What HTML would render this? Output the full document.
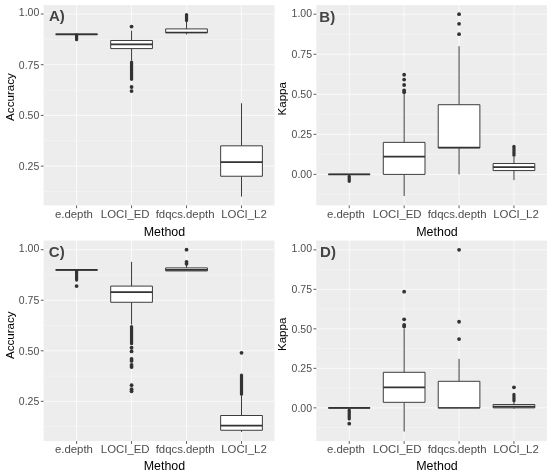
<!DOCTYPE html>
<html lang="en"><head><meta charset="utf-8"><title>Boxplots</title>
<style>html,body{margin:0;padding:0;background:#fff;}body{width:550px;height:476px;overflow:hidden;}svg{display:block;}</style>
</head><body>
<svg width="550" height="476" viewBox="0 0 550 476" font-family="'Liberation Sans', sans-serif">
<rect width="550" height="476" fill="#ffffff"/>
<g>
<rect x="43.6" y="5.1" width="230.9" height="200.3" fill="#ecedec"/>
<line x1="43.6" x2="274.5" y1="39.35" y2="39.35" stroke="#fff" stroke-width="0.32"/>
<line x1="43.6" x2="274.5" y1="90.05" y2="90.05" stroke="#fff" stroke-width="0.32"/>
<line x1="43.6" x2="274.5" y1="140.75" y2="140.75" stroke="#fff" stroke-width="0.32"/>
<line x1="43.6" x2="274.5" y1="191.45" y2="191.45" stroke="#fff" stroke-width="0.32"/>
<line x1="43.6" x2="274.5" y1="14" y2="14" stroke="#fff" stroke-width="0.72"/>
<line x1="40.8" x2="43.6" y1="14" y2="14" stroke="#333" stroke-width="0.8"/>
<text x="39.3" y="16.3" font-size="10.5" fill="#4d4d4d" text-anchor="end">1.00</text>
<line x1="43.6" x2="274.5" y1="64.7" y2="64.7" stroke="#fff" stroke-width="0.72"/>
<line x1="40.8" x2="43.6" y1="64.7" y2="64.7" stroke="#333" stroke-width="0.8"/>
<text x="39.3" y="68.5" font-size="10.5" fill="#4d4d4d" text-anchor="end">0.75</text>
<line x1="43.6" x2="274.5" y1="115.4" y2="115.4" stroke="#fff" stroke-width="0.72"/>
<line x1="40.8" x2="43.6" y1="115.4" y2="115.4" stroke="#333" stroke-width="0.8"/>
<text x="39.3" y="119.2" font-size="10.5" fill="#4d4d4d" text-anchor="end">0.50</text>
<line x1="43.6" x2="274.5" y1="166.1" y2="166.1" stroke="#fff" stroke-width="0.72"/>
<line x1="40.8" x2="43.6" y1="166.1" y2="166.1" stroke="#333" stroke-width="0.8"/>
<text x="39.3" y="169.9" font-size="10.5" fill="#4d4d4d" text-anchor="end">0.25</text>
<line x1="76.59" x2="76.59" y1="5.1" y2="205.4" stroke="#fff" stroke-width="0.72"/>
<line x1="76.59" x2="76.59" y1="205.4" y2="208.2" stroke="#333" stroke-width="0.8"/>
<text x="73.9" y="218.3" font-size="11.4" fill="#4d4d4d" text-anchor="middle">e.depth</text>
<line x1="131.56" x2="131.56" y1="5.1" y2="205.4" stroke="#fff" stroke-width="0.72"/>
<line x1="131.56" x2="131.56" y1="205.4" y2="208.2" stroke="#333" stroke-width="0.8"/>
<text x="125.2" y="218.3" font-size="11.4" fill="#4d4d4d" text-anchor="middle">LOCI_ED</text>
<line x1="186.54" x2="186.54" y1="5.1" y2="205.4" stroke="#fff" stroke-width="0.72"/>
<line x1="186.54" x2="186.54" y1="205.4" y2="208.2" stroke="#333" stroke-width="0.8"/>
<text x="185.1" y="218.3" font-size="11.4" fill="#4d4d4d" text-anchor="middle">fdqcs.depth</text>
<line x1="241.51" x2="241.51" y1="5.1" y2="205.4" stroke="#fff" stroke-width="0.72"/>
<line x1="241.51" x2="241.51" y1="205.4" y2="208.2" stroke="#333" stroke-width="0.8"/>
<text x="244" y="218.3" font-size="11.4" fill="#4d4d4d" text-anchor="middle">LOCI_L2</text>
<rect x="55.72" y="34.28" width="41.73" height="0.01" fill="#fff" stroke="#333333" stroke-width="0.95" stroke-linejoin="round"/>
<line x1="55.72" x2="97.45" y1="34.28" y2="34.28" stroke="#333333" stroke-width="1.8"/>
<line x1="76.59" x2="76.59" y1="34.89" y2="39.76" stroke="#333333" stroke-width="3.2" stroke-linecap="round"/>
<line x1="131.56" x2="131.56" y1="30.63" y2="40.47" stroke="#333333" stroke-width="0.95"/>
<line x1="131.56" x2="131.56" y1="48.58" y2="60.64" stroke="#333333" stroke-width="0.95"/>
<rect x="110.7" y="40.47" width="41.73" height="8.11" fill="#fff" stroke="#333333" stroke-width="0.95" stroke-linejoin="round"/>
<line x1="110.7" x2="152.43" y1="44.42" y2="44.42" stroke="#333333" stroke-width="1.8"/>
<circle cx="131.56" cy="26.57" r="1.9" fill="#333333"/>
<line x1="131.56" x2="131.56" y1="62.06" y2="79.3" stroke="#333333" stroke-width="3.2" stroke-linecap="round"/>
<circle cx="131.56" cy="87.01" r="1.9" fill="#333333"/>
<circle cx="131.56" cy="91.06" r="1.9" fill="#333333"/>
<line x1="186.54" x2="186.54" y1="21.1" y2="28.91" stroke="#333333" stroke-width="0.95"/>
<line x1="186.54" x2="186.54" y1="32.66" y2="34.48" stroke="#333333" stroke-width="0.95"/>
<rect x="165.67" y="28.91" width="41.73" height="3.75" fill="#fff" stroke="#333333" stroke-width="0.95" stroke-linejoin="round"/>
<line x1="165.67" x2="207.4" y1="32.45" y2="32.45" stroke="#333333" stroke-width="1.35"/>
<line x1="186.54" x2="186.54" y1="14.51" y2="20.59" stroke="#333333" stroke-width="3.2" stroke-linecap="round"/>
<line x1="241.51" x2="241.51" y1="103.23" y2="145.82" stroke="#333333" stroke-width="0.95"/>
<line x1="241.51" x2="241.51" y1="176.24" y2="196.52" stroke="#333333" stroke-width="0.95"/>
<rect x="220.65" y="145.82" width="41.73" height="30.42" fill="#fff" stroke="#333333" stroke-width="0.95" stroke-linejoin="round"/>
<line x1="220.65" x2="262.38" y1="162.04" y2="162.04" stroke="#333333" stroke-width="1.8"/>
<text x="49" y="21.2" font-size="15" font-weight="bold" fill="#444">A)</text>
<text x="164.45" y="235.7" font-size="12.45" fill="#000" text-anchor="middle">Method</text>
<text transform="translate(13.5,97.05) rotate(-90)" font-size="11.6" fill="#000" text-anchor="middle">Accuracy</text>
</g>
<g>
<rect x="316.3" y="5.1" width="230.6" height="200.3" fill="#ecedec"/>
<line x1="316.3" x2="546.9" y1="34.22" y2="34.22" stroke="#fff" stroke-width="0.32"/>
<line x1="316.3" x2="546.9" y1="74.27" y2="74.27" stroke="#fff" stroke-width="0.32"/>
<line x1="316.3" x2="546.9" y1="114.33" y2="114.33" stroke="#fff" stroke-width="0.32"/>
<line x1="316.3" x2="546.9" y1="154.37" y2="154.37" stroke="#fff" stroke-width="0.32"/>
<line x1="316.3" x2="546.9" y1="194.42" y2="194.42" stroke="#fff" stroke-width="0.32"/>
<line x1="316.3" x2="546.9" y1="14.2" y2="14.2" stroke="#fff" stroke-width="0.72"/>
<line x1="313.5" x2="316.3" y1="14.2" y2="14.2" stroke="#333" stroke-width="0.8"/>
<text x="312" y="16.5" font-size="10.5" fill="#4d4d4d" text-anchor="end">1.00</text>
<line x1="316.3" x2="546.9" y1="54.25" y2="54.25" stroke="#fff" stroke-width="0.72"/>
<line x1="313.5" x2="316.3" y1="54.25" y2="54.25" stroke="#333" stroke-width="0.8"/>
<text x="312" y="58.05" font-size="10.5" fill="#4d4d4d" text-anchor="end">0.75</text>
<line x1="316.3" x2="546.9" y1="94.3" y2="94.3" stroke="#fff" stroke-width="0.72"/>
<line x1="313.5" x2="316.3" y1="94.3" y2="94.3" stroke="#333" stroke-width="0.8"/>
<text x="312" y="98.1" font-size="10.5" fill="#4d4d4d" text-anchor="end">0.50</text>
<line x1="316.3" x2="546.9" y1="134.35" y2="134.35" stroke="#fff" stroke-width="0.72"/>
<line x1="313.5" x2="316.3" y1="134.35" y2="134.35" stroke="#333" stroke-width="0.8"/>
<text x="312" y="138.15" font-size="10.5" fill="#4d4d4d" text-anchor="end">0.25</text>
<line x1="316.3" x2="546.9" y1="174.4" y2="174.4" stroke="#fff" stroke-width="0.72"/>
<line x1="313.5" x2="316.3" y1="174.4" y2="174.4" stroke="#333" stroke-width="0.8"/>
<text x="312" y="178.2" font-size="10.5" fill="#4d4d4d" text-anchor="end">0.00</text>
<line x1="349.24" x2="349.24" y1="5.1" y2="205.4" stroke="#fff" stroke-width="0.72"/>
<line x1="349.24" x2="349.24" y1="205.4" y2="208.2" stroke="#333" stroke-width="0.8"/>
<text x="345.9" y="218.3" font-size="11.4" fill="#4d4d4d" text-anchor="middle">e.depth</text>
<line x1="404.15" x2="404.15" y1="5.1" y2="205.4" stroke="#fff" stroke-width="0.72"/>
<line x1="404.15" x2="404.15" y1="205.4" y2="208.2" stroke="#333" stroke-width="0.8"/>
<text x="397.2" y="218.3" font-size="11.4" fill="#4d4d4d" text-anchor="middle">LOCI_ED</text>
<line x1="459.05" x2="459.05" y1="5.1" y2="205.4" stroke="#fff" stroke-width="0.72"/>
<line x1="459.05" x2="459.05" y1="205.4" y2="208.2" stroke="#333" stroke-width="0.8"/>
<text x="457.1" y="218.3" font-size="11.4" fill="#4d4d4d" text-anchor="middle">fdqcs.depth</text>
<line x1="513.96" x2="513.96" y1="5.1" y2="205.4" stroke="#fff" stroke-width="0.72"/>
<line x1="513.96" x2="513.96" y1="205.4" y2="208.2" stroke="#333" stroke-width="0.8"/>
<text x="516" y="218.3" font-size="11.4" fill="#4d4d4d" text-anchor="middle">LOCI_L2</text>
<rect x="328.4" y="174.4" width="41.68" height="0.01" fill="#fff" stroke="#333333" stroke-width="0.95" stroke-linejoin="round"/>
<line x1="328.4" x2="370.08" y1="174.4" y2="174.4" stroke="#333333" stroke-width="1.8"/>
<line x1="349.24" x2="349.24" y1="176.32" y2="181.29" stroke="#333333" stroke-width="3.2" stroke-linecap="round"/>
<line x1="404.15" x2="404.15" y1="93.5" y2="142.36" stroke="#333333" stroke-width="0.95"/>
<line x1="404.15" x2="404.15" y1="174.4" y2="196.03" stroke="#333333" stroke-width="0.95"/>
<rect x="383.31" y="142.36" width="41.68" height="32.04" fill="#fff" stroke="#333333" stroke-width="0.95" stroke-linejoin="round"/>
<line x1="383.31" x2="424.99" y1="156.62" y2="156.62" stroke="#333333" stroke-width="1.8"/>
<circle cx="404.15" cy="92.22" r="1.9" fill="#333333"/>
<circle cx="404.15" cy="90.46" r="1.9" fill="#333333"/>
<circle cx="404.15" cy="85.01" r="1.9" fill="#333333"/>
<circle cx="404.15" cy="79.56" r="1.9" fill="#333333"/>
<circle cx="404.15" cy="74.76" r="1.9" fill="#333333"/>
<line x1="459.05" x2="459.05" y1="46.24" y2="104.71" stroke="#333333" stroke-width="0.95"/>
<line x1="459.05" x2="459.05" y1="147.97" y2="174.4" stroke="#333333" stroke-width="0.95"/>
<rect x="438.21" y="104.71" width="41.68" height="43.25" fill="#fff" stroke="#333333" stroke-width="0.95" stroke-linejoin="round"/>
<line x1="438.21" x2="479.89" y1="147.49" y2="147.49" stroke="#333333" stroke-width="1.35"/>
<circle cx="459.05" cy="34.22" r="1.9" fill="#333333"/>
<circle cx="459.05" cy="23.81" r="1.9" fill="#333333"/>
<circle cx="459.05" cy="14.2" r="1.9" fill="#333333"/>
<line x1="513.96" x2="513.96" y1="156.78" y2="163.51" stroke="#333333" stroke-width="0.95"/>
<line x1="513.96" x2="513.96" y1="170.56" y2="180.17" stroke="#333333" stroke-width="0.95"/>
<rect x="493.12" y="163.51" width="41.68" height="7.05" fill="#fff" stroke="#333333" stroke-width="0.95" stroke-linejoin="round"/>
<line x1="493.12" x2="534.8" y1="167.19" y2="167.19" stroke="#333333" stroke-width="1.8"/>
<line x1="513.96" x2="513.96" y1="146.36" y2="155.18" stroke="#333333" stroke-width="3.2" stroke-linecap="round"/>
<text x="319.3" y="22.1" font-size="15" font-weight="bold" fill="#444">B)</text>
<text x="437" y="235.7" font-size="12.45" fill="#000" text-anchor="middle">Method</text>
<text transform="translate(286.2,98.75) rotate(-90)" font-size="11.6" fill="#000" text-anchor="middle">Kappa</text>
</g>
<g>
<rect x="43.6" y="240.6" width="230.9" height="200.5" fill="#ecedec"/>
<line x1="43.6" x2="274.5" y1="274.97" y2="274.97" stroke="#fff" stroke-width="0.32"/>
<line x1="43.6" x2="274.5" y1="325.52" y2="325.52" stroke="#fff" stroke-width="0.32"/>
<line x1="43.6" x2="274.5" y1="376.07" y2="376.07" stroke="#fff" stroke-width="0.32"/>
<line x1="43.6" x2="274.5" y1="426.62" y2="426.62" stroke="#fff" stroke-width="0.32"/>
<line x1="43.6" x2="274.5" y1="249.7" y2="249.7" stroke="#fff" stroke-width="0.72"/>
<line x1="40.8" x2="43.6" y1="249.7" y2="249.7" stroke="#333" stroke-width="0.8"/>
<text x="39.3" y="252" font-size="10.5" fill="#4d4d4d" text-anchor="end">1.00</text>
<line x1="43.6" x2="274.5" y1="300.25" y2="300.25" stroke="#fff" stroke-width="0.72"/>
<line x1="40.8" x2="43.6" y1="300.25" y2="300.25" stroke="#333" stroke-width="0.8"/>
<text x="39.3" y="304.05" font-size="10.5" fill="#4d4d4d" text-anchor="end">0.75</text>
<line x1="43.6" x2="274.5" y1="350.8" y2="350.8" stroke="#fff" stroke-width="0.72"/>
<line x1="40.8" x2="43.6" y1="350.8" y2="350.8" stroke="#333" stroke-width="0.8"/>
<text x="39.3" y="354.6" font-size="10.5" fill="#4d4d4d" text-anchor="end">0.50</text>
<line x1="43.6" x2="274.5" y1="401.35" y2="401.35" stroke="#fff" stroke-width="0.72"/>
<line x1="40.8" x2="43.6" y1="401.35" y2="401.35" stroke="#333" stroke-width="0.8"/>
<text x="39.3" y="405.15" font-size="10.5" fill="#4d4d4d" text-anchor="end">0.25</text>
<line x1="76.59" x2="76.59" y1="240.6" y2="441.1" stroke="#fff" stroke-width="0.72"/>
<line x1="76.59" x2="76.59" y1="441.1" y2="443.9" stroke="#333" stroke-width="0.8"/>
<text x="73.9" y="452.6" font-size="11.4" fill="#4d4d4d" text-anchor="middle">e.depth</text>
<line x1="131.56" x2="131.56" y1="240.6" y2="441.1" stroke="#fff" stroke-width="0.72"/>
<line x1="131.56" x2="131.56" y1="441.1" y2="443.9" stroke="#333" stroke-width="0.8"/>
<text x="125.2" y="452.6" font-size="11.4" fill="#4d4d4d" text-anchor="middle">LOCI_ED</text>
<line x1="186.54" x2="186.54" y1="240.6" y2="441.1" stroke="#fff" stroke-width="0.72"/>
<line x1="186.54" x2="186.54" y1="441.1" y2="443.9" stroke="#333" stroke-width="0.8"/>
<text x="185.1" y="452.6" font-size="11.4" fill="#4d4d4d" text-anchor="middle">fdqcs.depth</text>
<line x1="241.51" x2="241.51" y1="240.6" y2="441.1" stroke="#fff" stroke-width="0.72"/>
<line x1="241.51" x2="241.51" y1="441.1" y2="443.9" stroke="#333" stroke-width="0.8"/>
<text x="244" y="452.6" font-size="11.4" fill="#4d4d4d" text-anchor="middle">LOCI_L2</text>
<rect x="55.72" y="269.92" width="41.73" height="0.01" fill="#fff" stroke="#333333" stroke-width="0.95" stroke-linejoin="round"/>
<line x1="55.72" x2="97.45" y1="269.92" y2="269.92" stroke="#333333" stroke-width="1.8"/>
<line x1="76.59" x2="76.59" y1="270.53" y2="280.03" stroke="#333333" stroke-width="3.2" stroke-linecap="round"/>
<circle cx="76.59" cy="286.1" r="1.9" fill="#333333"/>
<line x1="131.56" x2="131.56" y1="261.83" y2="286.1" stroke="#333333" stroke-width="0.95"/>
<line x1="131.56" x2="131.56" y1="302.27" y2="324.51" stroke="#333333" stroke-width="0.95"/>
<rect x="110.7" y="286.1" width="41.73" height="16.18" fill="#fff" stroke="#333333" stroke-width="0.95" stroke-linejoin="round"/>
<line x1="110.7" x2="152.43" y1="292.16" y2="292.16" stroke="#333333" stroke-width="1.8"/>
<line x1="131.56" x2="131.56" y1="326.54" y2="343.72" stroke="#333333" stroke-width="3.2" stroke-linecap="round"/>
<circle cx="131.56" cy="347.77" r="1.9" fill="#333333"/>
<circle cx="131.56" cy="351.41" r="1.9" fill="#333333"/>
<circle cx="131.56" cy="358.89" r="1.9" fill="#333333"/>
<circle cx="131.56" cy="360.91" r="1.9" fill="#333333"/>
<circle cx="131.56" cy="364.95" r="1.9" fill="#333333"/>
<circle cx="131.56" cy="366.98" r="1.9" fill="#333333"/>
<circle cx="131.56" cy="385.17" r="1.9" fill="#333333"/>
<circle cx="131.56" cy="389.22" r="1.9" fill="#333333"/>
<circle cx="131.56" cy="391.24" r="1.9" fill="#333333"/>
<line x1="186.54" x2="186.54" y1="264.86" y2="267.9" stroke="#333333" stroke-width="0.95"/>
<rect x="165.67" y="267.9" width="41.73" height="3.03" fill="#fff" stroke="#333333" stroke-width="0.95" stroke-linejoin="round"/>
<line x1="165.67" x2="207.4" y1="269.92" y2="269.92" stroke="#333333" stroke-width="1.8"/>
<circle cx="186.54" cy="263.85" r="1.9" fill="#333333"/>
<circle cx="186.54" cy="261.83" r="1.9" fill="#333333"/>
<circle cx="186.54" cy="249.7" r="1.9" fill="#333333"/>
<line x1="241.51" x2="241.51" y1="395.28" y2="415.5" stroke="#333333" stroke-width="0.95"/>
<line x1="241.51" x2="241.51" y1="430.26" y2="431.88" stroke="#333333" stroke-width="0.95"/>
<rect x="220.65" y="415.5" width="41.73" height="14.76" fill="#fff" stroke="#333333" stroke-width="0.95" stroke-linejoin="round"/>
<line x1="220.65" x2="262.38" y1="425.61" y2="425.61" stroke="#333333" stroke-width="1.8"/>
<line x1="241.51" x2="241.51" y1="375.06" y2="394.27" stroke="#333333" stroke-width="3.2" stroke-linecap="round"/>
<circle cx="241.51" cy="352.82" r="1.9" fill="#333333"/>
<text x="48.8" y="256.9" font-size="15" font-weight="bold" fill="#444">C)</text>
<text x="164.45" y="469.6" font-size="12.45" fill="#000" text-anchor="middle">Method</text>
<text transform="translate(13.5,335.2) rotate(-90)" font-size="11.6" fill="#000" text-anchor="middle">Accuracy</text>
</g>
<g>
<rect x="316.3" y="240.6" width="230.6" height="200.5" fill="#ecedec"/>
<line x1="316.3" x2="546.9" y1="269.6" y2="269.6" stroke="#fff" stroke-width="0.32"/>
<line x1="316.3" x2="546.9" y1="309.1" y2="309.1" stroke="#fff" stroke-width="0.32"/>
<line x1="316.3" x2="546.9" y1="348.6" y2="348.6" stroke="#fff" stroke-width="0.32"/>
<line x1="316.3" x2="546.9" y1="388.1" y2="388.1" stroke="#fff" stroke-width="0.32"/>
<line x1="316.3" x2="546.9" y1="427.6" y2="427.6" stroke="#fff" stroke-width="0.32"/>
<line x1="316.3" x2="546.9" y1="249.85" y2="249.85" stroke="#fff" stroke-width="0.72"/>
<line x1="313.5" x2="316.3" y1="249.85" y2="249.85" stroke="#333" stroke-width="0.8"/>
<text x="312" y="252.15" font-size="10.5" fill="#4d4d4d" text-anchor="end">1.00</text>
<line x1="316.3" x2="546.9" y1="289.35" y2="289.35" stroke="#fff" stroke-width="0.72"/>
<line x1="313.5" x2="316.3" y1="289.35" y2="289.35" stroke="#333" stroke-width="0.8"/>
<text x="312" y="293.15" font-size="10.5" fill="#4d4d4d" text-anchor="end">0.75</text>
<line x1="316.3" x2="546.9" y1="328.85" y2="328.85" stroke="#fff" stroke-width="0.72"/>
<line x1="313.5" x2="316.3" y1="328.85" y2="328.85" stroke="#333" stroke-width="0.8"/>
<text x="312" y="332.65" font-size="10.5" fill="#4d4d4d" text-anchor="end">0.50</text>
<line x1="316.3" x2="546.9" y1="368.35" y2="368.35" stroke="#fff" stroke-width="0.72"/>
<line x1="313.5" x2="316.3" y1="368.35" y2="368.35" stroke="#333" stroke-width="0.8"/>
<text x="312" y="372.15" font-size="10.5" fill="#4d4d4d" text-anchor="end">0.25</text>
<line x1="316.3" x2="546.9" y1="407.85" y2="407.85" stroke="#fff" stroke-width="0.72"/>
<line x1="313.5" x2="316.3" y1="407.85" y2="407.85" stroke="#333" stroke-width="0.8"/>
<text x="312" y="411.65" font-size="10.5" fill="#4d4d4d" text-anchor="end">0.00</text>
<line x1="349.24" x2="349.24" y1="240.6" y2="441.1" stroke="#fff" stroke-width="0.72"/>
<line x1="349.24" x2="349.24" y1="441.1" y2="443.9" stroke="#333" stroke-width="0.8"/>
<text x="345.9" y="452.6" font-size="11.4" fill="#4d4d4d" text-anchor="middle">e.depth</text>
<line x1="404.15" x2="404.15" y1="240.6" y2="441.1" stroke="#fff" stroke-width="0.72"/>
<line x1="404.15" x2="404.15" y1="441.1" y2="443.9" stroke="#333" stroke-width="0.8"/>
<text x="397.2" y="452.6" font-size="11.4" fill="#4d4d4d" text-anchor="middle">LOCI_ED</text>
<line x1="459.05" x2="459.05" y1="240.6" y2="441.1" stroke="#fff" stroke-width="0.72"/>
<line x1="459.05" x2="459.05" y1="441.1" y2="443.9" stroke="#333" stroke-width="0.8"/>
<text x="457.1" y="452.6" font-size="11.4" fill="#4d4d4d" text-anchor="middle">fdqcs.depth</text>
<line x1="513.96" x2="513.96" y1="240.6" y2="441.1" stroke="#fff" stroke-width="0.72"/>
<line x1="513.96" x2="513.96" y1="441.1" y2="443.9" stroke="#333" stroke-width="0.8"/>
<text x="516" y="452.6" font-size="11.4" fill="#4d4d4d" text-anchor="middle">LOCI_L2</text>
<rect x="328.4" y="407.85" width="41.68" height="0.01" fill="#fff" stroke="#333333" stroke-width="0.95" stroke-linejoin="round"/>
<line x1="328.4" x2="370.08" y1="407.85" y2="407.85" stroke="#333333" stroke-width="1.8"/>
<line x1="349.24" x2="349.24" y1="410.22" y2="418.91" stroke="#333333" stroke-width="3.2" stroke-linecap="round"/>
<circle cx="349.24" cy="423.65" r="1.9" fill="#333333"/>
<line x1="404.15" x2="404.15" y1="328.85" y2="372.3" stroke="#333333" stroke-width="0.95"/>
<line x1="404.15" x2="404.15" y1="402.32" y2="431.55" stroke="#333333" stroke-width="0.95"/>
<rect x="383.31" y="372.3" width="41.68" height="30.02" fill="#fff" stroke="#333333" stroke-width="0.95" stroke-linejoin="round"/>
<line x1="383.31" x2="424.99" y1="387.31" y2="387.31" stroke="#333333" stroke-width="1.8"/>
<circle cx="404.15" cy="326.48" r="1.9" fill="#333333"/>
<circle cx="404.15" cy="324.9" r="1.9" fill="#333333"/>
<circle cx="404.15" cy="319.37" r="1.9" fill="#333333"/>
<circle cx="404.15" cy="291.72" r="1.9" fill="#333333"/>
<line x1="459.05" x2="459.05" y1="358.87" y2="381.31" stroke="#333333" stroke-width="0.95"/>
<rect x="438.21" y="381.31" width="41.68" height="26.54" fill="#fff" stroke="#333333" stroke-width="0.95" stroke-linejoin="round"/>
<line x1="438.21" x2="479.89" y1="407.85" y2="407.85" stroke="#333333" stroke-width="1.35"/>
<circle cx="459.05" cy="339.12" r="1.9" fill="#333333"/>
<circle cx="459.05" cy="321.74" r="1.9" fill="#333333"/>
<circle cx="459.05" cy="249.85" r="1.9" fill="#333333"/>
<line x1="513.96" x2="513.96" y1="401.53" y2="404.53" stroke="#333333" stroke-width="0.95"/>
<line x1="513.96" x2="513.96" y1="407.85" y2="408.64" stroke="#333333" stroke-width="0.95"/>
<rect x="493.12" y="404.53" width="41.68" height="3.32" fill="#fff" stroke="#333333" stroke-width="0.95" stroke-linejoin="round"/>
<line x1="493.12" x2="534.8" y1="406.66" y2="406.66" stroke="#333333" stroke-width="1.8"/>
<line x1="513.96" x2="513.96" y1="394.42" y2="400.74" stroke="#333333" stroke-width="3.2" stroke-linecap="round"/>
<circle cx="513.96" cy="387.31" r="1.9" fill="#333333"/>
<text x="320.1" y="257.1" font-size="15" font-weight="bold" fill="#444">D)</text>
<text x="437" y="469.6" font-size="12.45" fill="#000" text-anchor="middle">Method</text>
<text transform="translate(286.2,334.3) rotate(-90)" font-size="11.6" fill="#000" text-anchor="middle">Kappa</text>
</g>
</svg>
</body></html>
